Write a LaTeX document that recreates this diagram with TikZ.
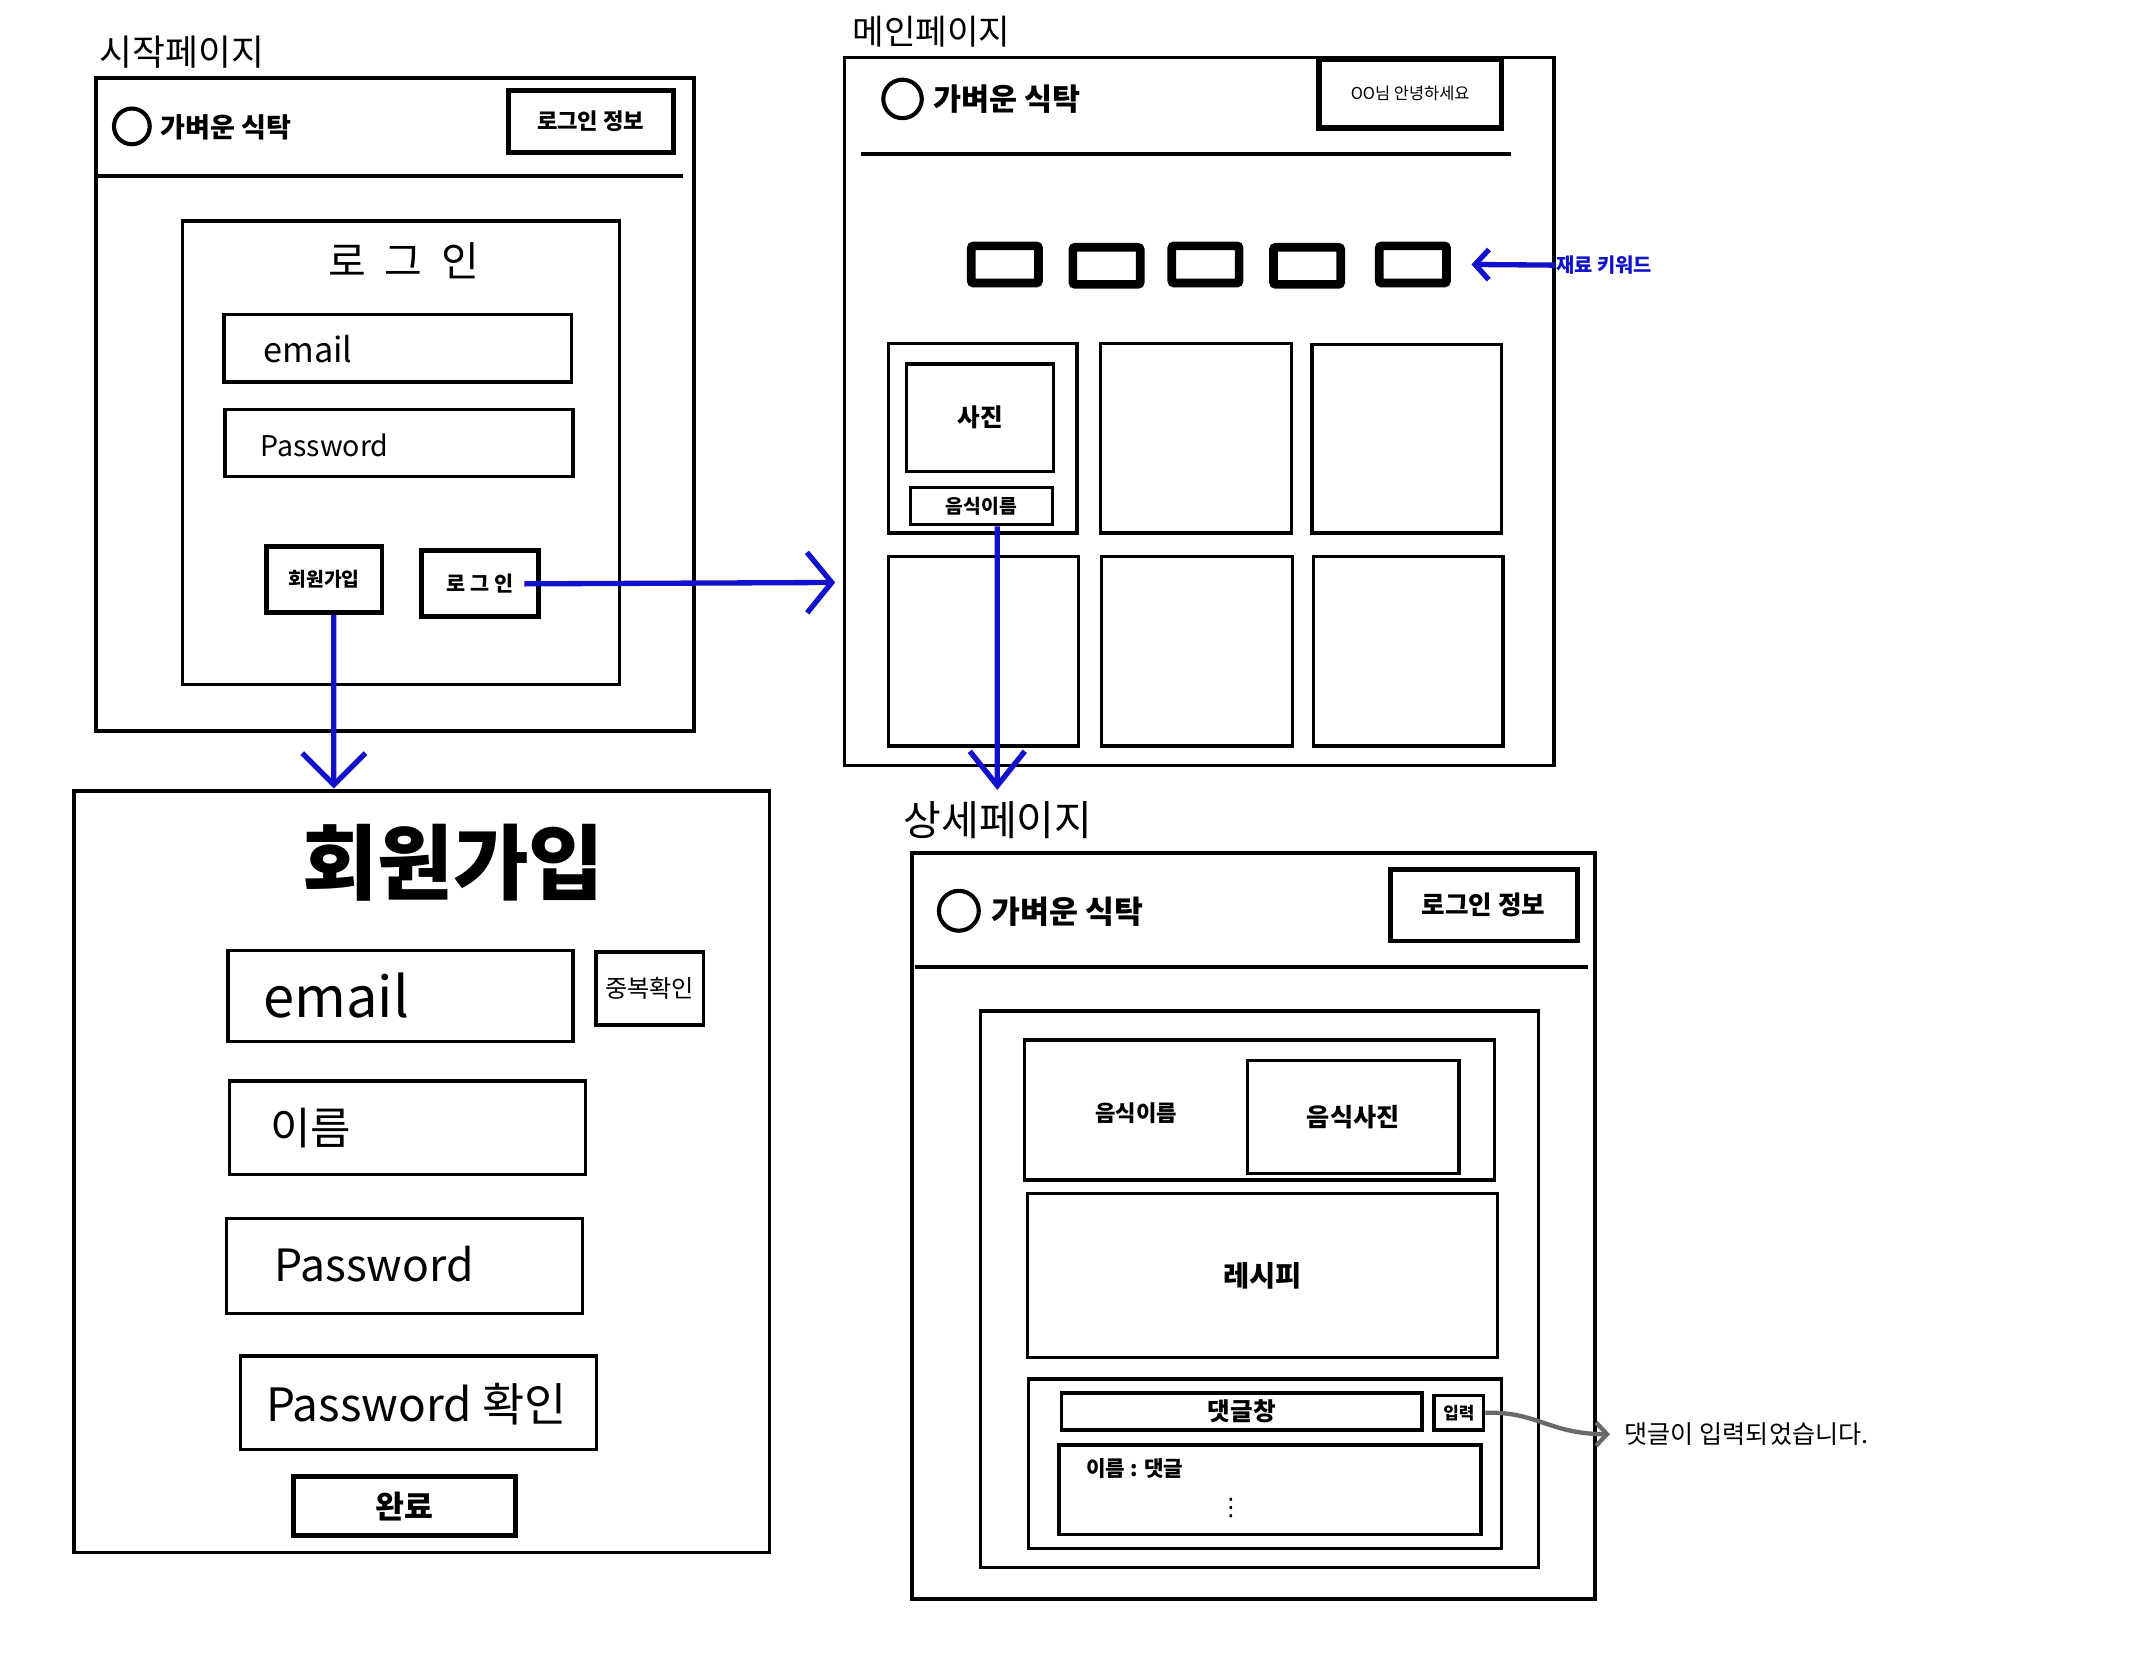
\documentclass[tikz,border=0pt]{standalone}
\usepackage{fontspec}
\newfontfamily\kr{Noto Sans CJK KR}
\newfontfamily\dv{DejaVu Sans}
\usetikzlibrary{arrows.meta,calc}
\definecolor{penblue}{RGB}{18,18,205}
\definecolor{pengray}{RGB}{105,105,105}
\newcommand\fs[1]{\fontsize{#1pt}{#1pt}\selectfont}
\newcommand\wbox[7]{%
  \pgfmathsetmacro\wbw{(#5-#3)/100}%
  \pgfmathsetmacro\wbh{(#6-#4)/100}%
  \node[#1, minimum width=\wbw cm, minimum height=\wbh cm] (#2) at ({(#3+#5)/2},{(#4+#6)/2}) {#7};}
\tikzset{
 frame/.style={draw, line width=0.75pt, inner sep=0pt},
 box/.style={draw, line width=0.7pt, inner sep=0pt},
 btn/.style={draw, line width=1pt, inner sep=0pt},
 thickbox/.style={draw, line width=1.8pt, inner sep=0pt, rounded corners=0.5pt},
 logo/.style={draw, circle, line width=0.85pt, inner sep=0pt},
 title/.style={anchor=west, inner sep=0pt},
 brand/.style={anchor=west, inner sep=0pt},
 lbl/.style={anchor=west, inner sep=0pt},
 hline/.style={line width=0.8pt},
 bluearrow/.style={draw=penblue, line width=1.1pt},
 grayarrow/.style={draw=pengray, line width=0.9pt, -{Straight Barb[length=0.08cm, width=0.17cm]}},
}
\begin{document}
\begin{tikzpicture}[x=0.01cm,y=-0.01cm]
\useasboundingbox[fill=white] (0,0) rectangle (1568,1214);

% ---------- start page ----------
\node[title, font=\kr\fs{7.4}] (t1) at (72,38) {시작페이지};
\wbox{frame}{startframe}{70}{57}{505}{532}{}
\node[logo, minimum size=0.26cm] (logo1) at (96,92) {};
\node[brand, font=\kr\bfseries\fs{5.6}] (brand1) at (116,93) {가벼운 식탁};
\wbox{btn, font=\kr\bfseries\fs{4.6}}{info1}{370}{66}{490}{111}{로그인 정보}
\draw[hline] (70,128) -- (497,128);
\wbox{box}{loginpanel}{133}{161}{451}{498}{}
\node[font=\kr\fs{8.5}] (loginhead) at (294,190) {로\hspace{0.45em}그\hspace{0.45em}인};
\wbox{box}{emailbox}{163}{229}{416}{278}{}
\node[lbl, font=\kr\fs{7.1}] (emaillbl) at (191,254) {email};
\wbox{box}{pwbox}{164}{298}{417}{347}{}
\node[lbl, font=\kr\fs{5.9}] (pwlbl) at (189,324) {Password};
\wbox{btn, font=\kr\bfseries\fs{4}}{signupbtn}{194}{398}{278}{446}{회원가입}
\wbox{btn, font=\kr\bfseries\fs{4.3}}{loginbtn}{307}{401}{392}{449}{로 그 인}

% ---------- main page ----------
\node[title, font=\kr\fs{7.1}] (t2) at (620,23) {메인페이지};
\wbox{frame}{mainframe}{615}{42}{1131}{557}{}
\node[logo, minimum size=0.28cm] (logo2) at (657,72) {};
\node[brand, font=\kr\bfseries\fs{6.3}] (brand2) at (679,72) {가벼운 식탁};
\wbox{btn, line width=1.2pt, font=\kr\fs{3.4}}{greet}{960}{43}{1093}{93}{OO님 안녕하세요}
\draw[hline, line width=0.9pt] (627,112) -- (1100,112);
\wbox{thickbox}{kw1}{707}{179}{756}{206}{}
\wbox{thickbox}{kw2}{781}{180}{830}{207}{}
\wbox{thickbox}{kw3}{853}{179}{902}{206}{}
\wbox{thickbox}{kw4}{927}{180}{976}{207}{}
\wbox{thickbox}{kw5}{1004}{179}{1053}{206}{}
\node[lbl, font=\kr\bfseries\fs{4.1}, text=penblue] (kwlbl) at (1132,193) {재료 키워드};
\draw[bluearrow, -{Straight Barb[length=0.1cm, width=0.22cm]}] (kwlbl.west) -- ([xshift=0.15cm]kw5.east);
\wbox{box}{c11}{647}{250}{784}{388}{}
\wbox{box}{c12}{801}{250}{940}{388}{}
\wbox{box}{c13}{955}{251}{1093}{388}{}
\wbox{box}{c21}{647}{405}{785}{543}{}
\wbox{box}{c22}{802}{405}{941}{543}{}
\wbox{box}{c23}{956}{405}{1094}{543}{}
\wbox{box, font=\kr\bfseries\fs{5.1}}{photo}{660}{265}{767}{343}{사진}
\wbox{box, font=\kr\bfseries\fs{4}}{foodname}{663}{355}{766}{382}{음식이름}

% ---------- signup page ----------
\wbox{frame}{signupframe}{54}{576}{560}{1130}{}
\node[font=\kr\bfseries\fs{17}] (signuphead) at (330,628) {회원가입};
\wbox{box}{semail}{166}{692}{417}{758}{}
\node[lbl, font=\kr\fs{11.6}] (semaillbl) at (191,725) {email};
\wbox{box, font=\kr\fs{5}}{dupcheck}{434}{693}{512}{746}{중복확인}
\wbox{box}{sname}{167}{787}{426}{855}{}
\node[lbl, font=\kr\fs{9.1}] (snamelbl) at (196,821) {이름};
\wbox{box}{spw}{165}{887}{424}{956}{}
\node[lbl, font=\kr\fs{9.2}] (spwlbl) at (199,920) {Password};
\wbox{box}{spw2}{175}{987}{434}{1055}{}
\node[lbl, font=\kr\fs{9.5}] (spw2lbl) at (193,1022) {Password 확인};
\wbox{btn, font=\kr\bfseries\fs{6.5}}{donebtn}{214}{1075}{375}{1118}{완료}

% ---------- detail page ----------
\node[title, font=\kr\fs{8.5}] (t3) at (657,597) {상세페이지};
\wbox{frame}{detailframe}{664}{621}{1161}{1164}{}
\node[logo, minimum size=0.29cm] (logo3) at (698,663) {};
\node[brand, font=\kr\bfseries\fs{6.5}] (brand3) at (721,664) {가벼운 식탁};
\wbox{btn, font=\kr\bfseries\fs{5.3}}{info3}{1012}{633}{1148}{685}{로그인 정보}
\draw[hline] (666,704) -- (1156,704);
\wbox{box}{content}{714}{736}{1120}{1141}{}
\wbox{box}{topbox}{746}{757}{1088}{859}{}
\node[font=\kr\bfseries\fs{4.6}] (dname) at (827,810) {음식이름};
\wbox{box, font=\kr\bfseries\fs{5.2}}{dphoto}{908}{772}{1062}{854}{음식사진}
\wbox{box, font=\kr\bfseries\fs{5.9}}{recipe}{748}{869}{1090}{988}{레시피}
\wbox{box}{cmtarea}{749}{1004}{1093}{1127}{}
\wbox{box, font=\kr\bfseries\fs{5.1}}{cmtinput}{773}{1014}{1035}{1041}{댓글창}
\wbox{box, font=\kr\bfseries\fs{3.5}}{inputbtn}{1044}{1016}{1080}{1041}{입력}
\wbox{box}{cmtlist}{771}{1052}{1078}{1117}{}
\node[lbl, font=\kr\bfseries\fs{4.4}] (cmt1) at (790,1069) {이름 : 댓글};
\node[font=\dv\fs{5}, inner sep=0pt] (vdots) at (896,1098) {⋮};
\node[lbl, font=\kr\fs{5.2}] (msg) at (1182,1044) {댓글이 입력되었습니다.};

% ---------- connectors ----------
\coordinate (mainin) at (608,424);
\draw[bluearrow, -{Straight Barb[length=0.18cm, width=0.44cm]}] ([xshift=-0.12cm]loginbtn.east) -- (mainin);
\coordinate (signupin) at (243,574);
\draw[bluearrow, -{Straight Barb[length=0.23cm, width=0.46cm]}] ([xshift=0.07cm]signupbtn.south) -- (signupin);
\coordinate (detailin) at (726,575);
\draw[bluearrow, -{Straight Barb[length=0.25cm, width=0.40cm]}] ([xshift=0.115cm]foodname.south) -- (detailin);
\draw[grayarrow] (inputbtn.east) .. controls (1118,1027) and (1128,1044) .. ([xshift=-0.1cm]msg.west);
\end{tikzpicture}
\end{document}
